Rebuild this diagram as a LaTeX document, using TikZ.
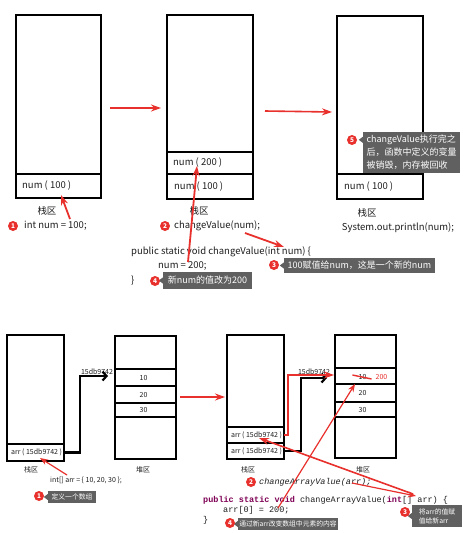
\documentclass[tikz,border=0pt]{standalone}
\usepackage{fontspec}
\setmainfont{Noto Sans CJK SC}
\newfontfamily\codefont{Liberation Mono}
\usetikzlibrary{arrows.meta,calc}
\definecolor{redc}{RGB}{232,48,44}
\definecolor{calloutc}{RGB}{96,96,96}
\definecolor{kw}{RGB}{127,0,85}
\definecolor{txt}{RGB}{30,30,30}
\begin{document}
\begin{tikzpicture}[x=1pt,y=-1pt,
  box/.style={draw=black,line width=2.5pt,inner sep=0pt,outer sep=0pt,anchor=north west},
  boxb/.style={box,line width=2.2pt},
  lab/.style={font=\fontsize{9.5}{11}\selectfont,text=txt,inner sep=0pt},
  labs/.style={font=\fontsize{7}{8}\selectfont,text=txt,inner sep=0pt},
  marker/.style={circle,fill=redc,text=white,inner sep=0pt,minimum size=10pt,font=\fontsize{6.5}{7}\selectfont\bfseries},
  callout/.style={fill=calloutc,text=white,inner sep=0pt,font=\fontsize{9}{13}\selectfont},
  calloutsm/.style={callout,font=\fontsize{6.8}{9}\selectfont},
  redarr/.style={draw=redc,line width=1.8pt,-{Stealth[length=10pt,width=7pt]}},
  redarrthin/.style={draw=redc,line width=1.2pt,-{Stealth[length=8pt,width=6pt]}},
  blkarr/.style={draw=black,line width=2.2pt,-{Straight Barb[length=4pt,width=9pt]}},
  code/.style={font=\codefont\fontsize{8.5}{10}\selectfont,text=txt,inner sep=0pt,anchor=west},
  pointer/.style={fill=calloutc},
]
\fill[white] (0,0) rectangle (474,533);
\useasboundingbox (0,0) rectangle (474,533);

%================ TOP ================
% box 1
\node[box,minimum width=85pt,minimum height=159pt] (s1top) at (16,15) {};
\node[box,minimum width=85pt,minimum height=24pt] (s1a) at (16,174) {};
\node[lab,anchor=west] (s1at) at ($(s1a.west)+(6,0)$) {num ( 100 )};
\node[lab] (z1) at (47,211) {栈区};
\node[marker] (m1) at (13,226) {1};
\node[lab,anchor=west] (t1) at (24,226) {int num = 100;};

% box 2
\node[box,minimum width=86pt,minimum height=137pt] (s2top) at (167,15) {};
\node[box,minimum width=86pt,minimum height=22pt] (s2b) at (167,152) {};
\node[box,minimum width=86pt,minimum height=25pt] (s2a) at (167,174) {};
\node[lab,anchor=west] (s2bt) at ($(s2b.west)+(6,0)$) {num ( 200 )};
\node[lab,anchor=west] (s2at) at ($(s2a.west)+(7,0)$) {num ( 100 )};
\node[lab] (z2) at (199,211) {栈区};
\node[marker] (m2) at (165,226) {2};
\node[lab,anchor=west] (t2) at (174,226) {changeValue(num);};
\node[lab,anchor=west] (c1) at (131,252) {public static void changeValue(int num) \{};
\node[lab,anchor=west] (c2) at (158,266) {num = 200;};
\node[lab,anchor=west] (c3) at (131,281) {\}};

% box 3
\node[box,minimum width=86pt,minimum height=158pt] (s3top) at (337,16) {};
\node[box,minimum width=86pt,minimum height=25pt] (s3a) at (337,174) {};
\node[lab,anchor=west] (s3at) at ($(s3a.west)+(7,0)$) {num ( 100 )};
\node[lab] (z3) at (367,213) {栈区};
\node[lab] (t3) at (398,228) {System.out.println(num);};

% callouts top
\node[callout,minimum width=97pt,minimum height=41pt,align=left] (k5) at (411.5,152.5) {changeValue执行完之\\后，函数中定义的变量\\被销毁，内存被回收};
\fill[pointer] ($(k5.north west)+(0,5)$) -- ($(k5.north west)+(-4,8)$) -- ($(k5.north west)+(0,11)$) -- cycle;
\node[marker] (m5) at (352,140) {5};

\node[callout,minimum width=151pt,minimum height=15pt] (k3) at (359.5,265.5) {100赋值给num，这是一个新的num};
\fill[pointer] ([yshift=3pt]k3.west) -- ([xshift=-4pt]k3.west) -- ([yshift=-3pt]k3.west) -- cycle;
\node[marker] (m3) at (274,265) {3};

\node[callout,minimum width=89pt,minimum height=17pt] (k4) at (207.5,280.5) {新num的值改为200};
\fill[pointer] ([yshift=3pt]k4.west) -- ([xshift=-4pt]k4.west) -- ([yshift=-3pt]k4.west) -- cycle;
\node[marker] (m4) at (155,281) {4};

% arrows top
\coordinate (a1s) at (70,219);
\coordinate (a1e) at (61,195);
\draw[redarr] (a1s) -- (a1e);
\coordinate (h1s) at (110,108);
\coordinate (h1e) at (161,108);
\draw[redarr,line width=1.6pt] (h1s) -- (h1e);
\coordinate (h2s) at (265,111);
\coordinate (h2e) at (332,112);
\draw[redarr,line width=1.6pt] (h2s) -- (h2e);
\coordinate (a4s) at (245,233);
\coordinate (a4e) at (284,247);
\draw[redarr] (a4s) -- (a4e);
\coordinate (a5s) at (188,262);
\coordinate (a5e) at (197,166);
\draw[redarr] (a5s) -- (a5e);

%================ BOTTOM ================
% stack A
\node[boxb,minimum width=57pt,minimum height=109pt] (A1top) at (7,335) {};
\node[boxb,minimum width=57pt,minimum height=17pt] (A1a) at (7,444) {};
\node[labs,anchor=west] (A1at) at ($(A1a.west)+(4,0)$) {arr ( 15db9742 )};
% heap A
\node[boxb,minimum width=61pt,minimum height=33pt] (H1top) at (115,336) {};
\node[boxb,minimum width=61pt,minimum height=17pt] (H1a) at (115,369) {};
\node[boxb,minimum width=61pt,minimum height=17pt] (H1b) at (115,386) {};
\node[boxb,minimum width=61pt,minimum height=14pt] (H1c) at (115,403) {};
\node[boxb,minimum width=61pt,minimum height=42pt] (H1bot) at (115,417) {};
\node[labs] (H1at) at ($(H1a.center)+(-2,0)$) {10};
\node[labs] (H1bt) at ($(H1b.center)+(-2,0)$) {20};
\node[labs] (H1ct) at ($(H1c.center)+(-2,0)$) {30};
\node[labs] (zA) at (31,470) {栈区};
\node[labs] (zH1) at (143,470) {堆区};
\node[labs,anchor=west] (T1) at (50,480) {int[] arr = \{ 10, 20, 30 \};};
\node[marker] (M1) at (39,496) {1};
\node[calloutsm,minimum width=48pt,minimum height=12pt] (K1) at (72,497) {定义一个数组};
\fill[pointer] ([yshift=3pt]K1.west) -- ([xshift=-4pt]K1.west) -- ([yshift=-3pt]K1.west) -- cycle;
\node[labs] (L1) at (97,372) {15db9742};
\draw[blkarr] (A1a.east) -- ++(16,0) |- ($(H1a.west)+(-7,-1.5)$);
\coordinate (b1s) at (67,475);
\coordinate (b1e) at (40,458);
\draw[redarrthin] (b1s) -- (b1e);
\coordinate (hm1s) at (180,397);
\coordinate (hm1e) at (225,397);
\draw[redarr,line width=1.5pt] (hm1s) -- (hm1e);

% stack B
\node[boxb,minimum width=57pt,minimum height=92pt] (B1top) at (227,335) {};
\node[boxb,minimum width=57pt,minimum height=16pt] (B1b) at (227,427) {};
\node[boxb,minimum width=57pt,minimum height=16pt] (B1a) at (227,443) {};
\node[labs,anchor=west] (B1bt) at ($(B1b.west)+(4,0)$) {arr ( 15db9742 )};
\node[labs,anchor=west] (B1at) at ($(B1a.west)+(4,0)$) {arr ( 15db9742 )};
% heap B
\node[boxb,minimum width=61pt,minimum height=33pt] (H2top) at (335,335) {};
\node[boxb,minimum width=61pt,minimum height=16pt] (H2a) at (335,368) {};
\node[boxb,minimum width=61pt,minimum height=18pt] (H2b) at (335,384) {};
\node[boxb,minimum width=61pt,minimum height=15pt] (H2c) at (335,402) {};
\node[boxb,minimum width=61pt,minimum height=41pt] (H2bot) at (335,417) {};
\node[labs] (H2at) at ($(H2a.center)+(-3,1)$) {10};
\node[labs,text=redc] (H2new) at ($(H2a.center)+(16,1)$) {200};
\node[labs] (H2bt) at ($(H2b.center)+(-3,0)$) {20};
\node[labs] (H2ct) at ($(H2c.center)+(-3,0)$) {30};
\draw[redc,line width=1.4pt] ($(H2at.west)+(-6,-2)$) -- ($(H2at.east)+(5,2)$);
\node[labs] (zB) at (248,470) {栈区};
\node[labs] (zH2) at (363,470) {堆区};
\node[labs] (L2) at (314,372) {15db9742};
\draw[blkarr] (B1a.east) -- ++(17,0) |- ($(H2a.west)+(-8,2)$);
\draw[redarr,line width=2pt] (B1b.east) -- ++(4,0) |- ($(H2a.west)+(-1,-1)$);

% code bottom
\node[marker] (M2) at (251,482) {2};
\node[code] (D0) at (259,482) {\itshape changeArrayValue(arr);};
\node[code] (D1) at (203,500) {{\bfseries\color{kw}public static void} changeArrayValue({\bfseries\color{kw}int}[] arr) \{};
\node[code] (D2) at (223,510) {arr[0] = 200;};
\node[code] (D3) at (203,520) {\}};
\node[calloutsm,minimum width=100pt,minimum height=12pt] (K4) at (288,524) {通过新arr改变数组中元素的内容};
\fill[pointer] ([yshift=3pt]K4.west) -- ([xshift=-4pt]K4.west) -- ([yshift=-3pt]K4.west) -- cycle;
\node[marker] (M4) at (230,523) {4};
\node[calloutsm,minimum width=50pt,minimum height=22pt,align=left] (K3) at (437,516) {将arr的值赋\\值给新arr};
\fill[pointer] ([yshift=3pt]K3.west) -- ([xshift=-4pt]K3.west) -- ([yshift=-3pt]K3.west) -- cycle;
\node[marker] (M3) at (405,512) {3};

% red arrows bottom
\coordinate (r1s) at (413,494);
\coordinate (r1e) at (259,438);
\draw[redarr,line width=1.6pt] (r1s) -- (r1e);
\coordinate (r2s) at (352,483);
\coordinate (r2e) at (416,496);
\draw[redarrthin] (r2s) -- (r2e);
\coordinate (r3s) at (278,508);
\coordinate (r3e) at (355,384);
\draw[redarrthin] (r3s) -- (r3e);
\end{tikzpicture}
\end{document}
